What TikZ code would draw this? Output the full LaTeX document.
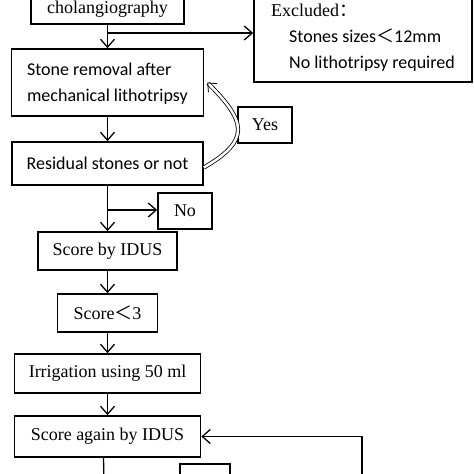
\documentclass[tikz,border=0pt]{standalone}
\usepackage{fontspec}
\setmainfont{Liberation Serif}
\setsansfont{Carlito}
\newfontfamily\cjk{Noto Sans CJK SC}
\usetikzlibrary{arrows.meta}

\begin{document}
\begin{tikzpicture}[x=1pt, y=1pt, node distance=62pt, >={Straight Barb[length=8pt,width=14pt]}]
	\tikzset{
		box/.style={rectangle, draw=black, line width=1.6pt, inner sep=0pt, text centered, font=\fontsize{18}{26}\selectfont},
		sansbox/.style={box, font=\sffamily\fontsize{18}{26}\selectfont},
		flow/.style={line width=1.3pt, ->},
	}
	\useasboundingbox (0,0) rectangle (474,-474);
	\clip (0,0) rectangle (474,-474);
	\node[box, minimum width=153pt, minimum height=30pt](chol) at (107.5,-9){cholangiography};
	\node[sansbox, below of=chol, yshift=-11.5pt, minimum width=192pt, minimum height=67pt, align=left, text depth=-2pt](stone){Stone removal after\\mechanical lithotripsy};
	\node[sansbox, below of=stone, yshift=-19pt, minimum width=191pt, minimum height=43pt](resid){Residual stones or not};
	\node[box, below of=resid, yshift=-25.5pt, minimum width=139pt, minimum height=38pt](score){Score by IDUS};
	\node[box, below of=score, minimum width=100pt, minimum height=38pt](low){Score{\cjk ＜}3};
	\node[box, below of=low, yshift=1.5pt, minimum width=186pt, minimum height=39pt](irrig){Irrigation using 50 ml};
	\node[box, below of=irrig, yshift=-1pt, minimum width=186pt, minimum height=41pt](again){Score again by IDUS};
	% side boxes
	\node[box, minimum width=218pt, minimum height=88pt, align=left](excl) at (363,-38){Excluded{\cjk ：}\\\sffamily\hspace*{18pt}Stones sizes{\cjk ＜}12mm\\\sffamily\hspace*{18pt}No lithotripsy required};
	\node[box, minimum width=54pt, minimum height=36pt](yes) at (265,-125){Yes};
	\node[box, minimum width=54pt, minimum height=36pt](no) at (185,-211){No};
	\node[box, minimum width=50pt, minimum height=52pt](next) at (205,-490){};
	\coordinate (split1) at (107.5,-33);
	\coordinate (split2) at (107.5,-210);
	\coordinate (loop) at (362,-490);
	\coordinate (down) at (104,-484);
	%Draw arrows
	\draw[flow] (chol) -- (stone);
	\draw[flow] (split1) -- (split1 -| excl.west);
	\draw[flow] (stone) -- (resid);
	\draw[line width=0.8pt, double, double distance=2.5pt, -{Straight Barb[length=7pt,width=12pt]}] ([yshift=-4pt]resid.east) to[out=30, in=-45, looseness=1.65] ([xshift=3pt]stone.east);
	\draw[flow] (resid) -- (score);
	\draw[flow] (split2) -- (split2 -| no.west);
	\draw[flow] (score) -- (low);
	\draw[flow] (low) -- (irrig);
	\draw[flow] (irrig) -- (again);
	\draw[flow] ([xshift=-4pt]again.south) -- (down);
	\draw[flow] (loop) |- (again.east);
\end{tikzpicture}
\end{document}
